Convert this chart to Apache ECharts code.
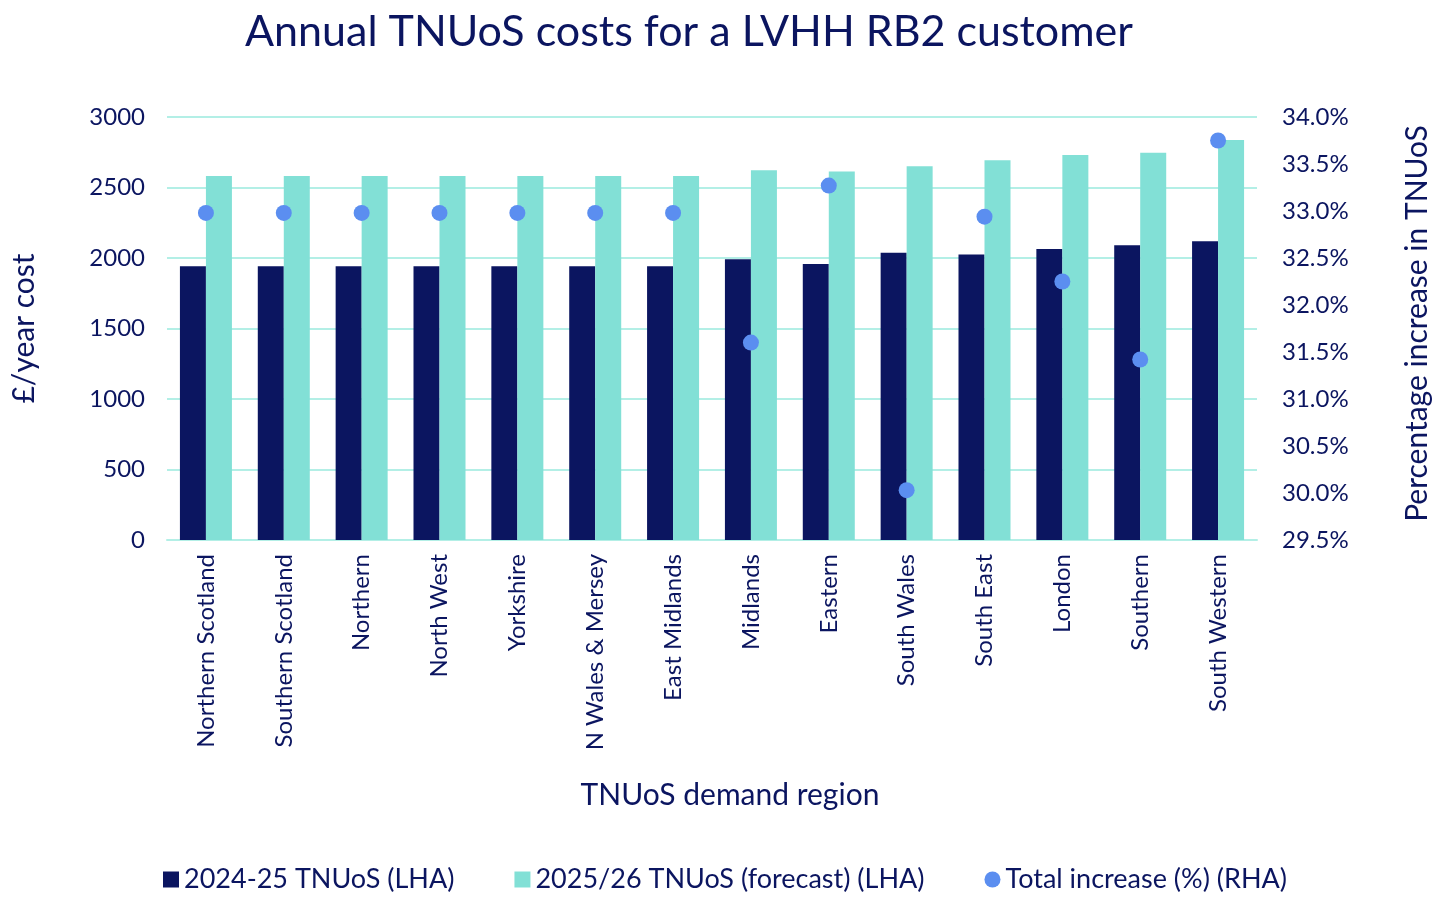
<!DOCTYPE html>
<html>
<head>
<meta charset="utf-8">
<script src="https://cdn.jsdelivr.net/npm/echarts@6/dist/echarts.min.js"></script>
<style>html,body{margin:0;padding:0;background:#fff;}#chart{width:1440px;height:909px;}</style>
</head>
<body>
<div id="chart"></div>
<script>
const categories = ["Northern Scotland","Southern Scotland","Northern","North West","Yorkshire","N Wales & Mersey","East Midlands","Midlands","Eastern","South Wales","South East","London","Southern","South Western"];
const cost2024 = [1941,1941,1941,1941,1941,1941,1941,1991,1957,2038,2024,2064,2090,2118];
const cost2025 = [2582,2582,2582,2582,2582,2582,2582,2622,2613,2650,2693,2730,2747,2837];
const increasePct = [32.98,32.98,32.98,32.98,32.98,32.98,32.98,31.60,33.27,30.03,32.94,32.25,31.42,33.75];

const NAVY = '#0b1560';
const FONT = 'Lato';
const chart = echarts.init(document.getElementById('chart'));
chart.setOption({
  backgroundColor: '#fff',
  textStyle: {fontFamily: FONT, color: NAVY},
  title: {
    text: 'Annual TNUoS costs for a LVHH RB2 customer',
    left: 684, top: 6, textAlign: 'center',
    textStyle: {fontFamily: FONT, fontSize: 43, fontWeight: 'normal', color: NAVY}
  },
  legend: {
    left: 158, top: 861,
    itemWidth: 16, itemHeight: 16, itemGap: 60,
    textStyle: {fontFamily: FONT, fontSize: 27, color: NAVY},
    data: [
      {name: '2024-25 TNUoS (LHA)', icon: 'rect'},
      {name: '2025/26 TNUoS (forecast) (LHA)', icon: 'rect'},
      {name: 'Total increase (%) (RHA)', icon: 'circle'}
    ]
  },
  grid: {left: 167, right: 180, top: 117, bottom: 369},
  xAxis: {
    type: 'category', data: categories,
    name: 'TNUoS demand region', nameLocation: 'middle', nameGap: 240,
    nameTextStyle: {fontFamily: FONT, fontSize: 30, color: NAVY, padding: [0, 0, 0, 36]},
    axisLine: {lineStyle: {color: '#b3efe6', width: 2}},
    axisTick: {show: false},
    axisLabel: {rotate: 90, margin: 14, fontFamily: FONT, fontSize: 24, color: NAVY, interval: 0}
  },
  yAxis: [
    {
      type: 'value', min: 0, max: 3000, interval: 500,
      name: '£/year cost', nameLocation: 'middle', nameGap: 128, nameRotate: 90,
      nameTextStyle: {fontFamily: FONT, fontSize: 30, color: NAVY},
      axisLine: {show: false}, axisTick: {show: false},
      axisLabel: {margin: 22, fontFamily: FONT, fontSize: 24, color: NAVY, formatter: v => String(v)},
      splitLine: {lineStyle: {color: '#b3efe6', width: 2}}
    },
    {
      type: 'value', min: 29.5, max: 34, interval: 0.5,
      name: 'Percentage increase in TNUoS', nameLocation: 'middle', nameGap: 145, nameRotate: 90,
      nameTextStyle: {fontFamily: FONT, fontSize: 30, color: NAVY, padding: [0, 0, 0, 10]},
      axisLine: {show: false}, axisTick: {show: false},
      axisLabel: {margin: 25, fontFamily: FONT, fontSize: 24, color: NAVY, formatter: v => v.toFixed(1) + '%'},
      splitLine: {show: false}
    }
  ],
  series: [
    {name: '2024-25 TNUoS (LHA)', type: 'bar', data: cost2024, barWidth: 26, barGap: '0%', itemStyle: {color: '#0b1560'}},
    {name: '2025/26 TNUoS (forecast) (LHA)', type: 'bar', data: cost2025, barWidth: 26, itemStyle: {color: '#82e0d6'}},
    {name: 'Total increase (%) (RHA)', type: 'scatter', yAxisIndex: 1, data: increasePct, symbolSize: 16, itemStyle: {color: '#5b8ef0', opacity: 1}, z: 5}
  ]
});
</script>
</body>
</html>
